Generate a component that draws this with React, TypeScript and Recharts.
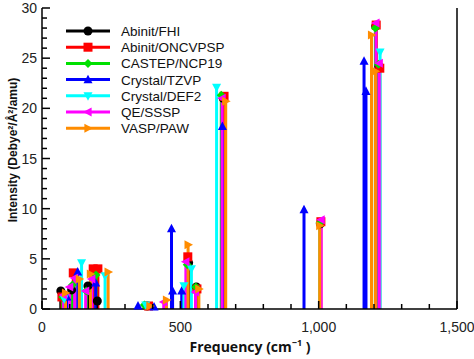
import React from 'react';
import { ScatterChart, Scatter, XAxis, YAxis, ErrorBar } from 'recharts';

// peak positions (cm-1) and intensities for each code/pseudopotential set
const freqFHI = [68, 107, 166, 200, 380, 530, 558, 655, 1006, 1206, 1218];
const intFHI = [1.8, 1.9, 2.3, 0.8, 0.3, 4.6, 2.2, 21.0, 8.5, 28.2, 24.2];

const freqONCV = [72, 113, 185, 202, 385, 527, 560, 658, 1008, 1208, 1221];
const intONCV = [1.2, 3.6, 4.0, 4.0, 0.3, 5.2, 2.0, 21.2, 8.7, 28.3, 24.0];

const freqCASTEP = [75, 110, 160, 195, 370, 525, 556, 648, 1005, 1205, 1216];
const intCASTEP = [1.2, 2.4, 1.8, 3.4, 0.4, 4.4, 2.2, 21.3, 8.6, 28.0, 24.4];

const freqTZVP = [90, 129, 194, 347, 405, 468, 472, 505, 652, 947, 1164, 1171];
const intTZVP = [1.2, 3.7, 2.6, 0.3, 0.2, 8.0, 1.8, 1.8, 18.2, 9.9, 24.7, 21.7];

const freqDEF2 = [80, 143, 228, 375, 513, 540, 631, 1222];
const intDEF2 = [1.0, 4.6, 3.3, 0.4, 2.3, 4.0, 22.1, 25.6];

const freqSSSP = [78, 100, 118, 158, 180, 440, 520, 555, 651, 1009, 1207, 1219];
const intSSSP = [1.4, 2.2, 3.1, 1.8, 3.0, 0.7, 4.7, 1.7, 21.0, 8.9, 28.5, 24.5];

const freqPAW = [85, 135, 175, 239, 390, 450, 528, 567, 664, 1004, 1191, 1205];
const intPAW = [1.6, 3.0, 3.5, 3.7, 0.3, 0.9, 6.4, 2.0, 20.7, 8.3, 27.3, 23.7];

const seriesNames = ['Abinit/FHI', 'Abinit/ONCVPSP', 'CASTEP/NCP19', 'Crystal/TZVP', 'Crystal/DEF2', 'QE/SSSP', 'VASP/PAW'];
const seriesColors = ['#000000', '#ff0000', '#00e000', '#0000ff', '#00ffff', '#ff00ff', '#ff8c00'];
const seriesMarkers = ['circle', 'square', 'diamond', 'up', 'down', 'left', 'right'];
const seriesFreqs = [freqFHI, freqONCV, freqCASTEP, freqTZVP, freqDEF2, freqSSSP, freqPAW];
const seriesInts = [intFHI, intONCV, intCASTEP, intTZVP, intDEF2, intSSSP, intPAW];

const xTicks = [0, 100, 200, 300, 400, 500, 600, 700, 800, 900, 1000, 1100, 1200, 1300, 1400, 1500];
const yTicks = Array.from({ length: 31 }, (_, i) => i);

const tickFont = '"Liberation Sans", Arial, sans-serif';

const Marker = ({ kind, cx, cy, color, s = 4.5 }: any) => {
  switch (kind) {
    case 'circle':
      return <circle cx={cx} cy={cy} r={s} fill={color} />;
    case 'square':
      return <rect x={cx - s} y={cy - s} width={2 * s} height={2 * s} fill={color} />;
    case 'diamond':
      return <polygon points={`${cx},${cy - s} ${cx + s},${cy} ${cx},${cy + s} ${cx - s},${cy}`} fill={color} />;
    case 'up':
      return <polygon points={`${cx},${cy - s * 1.1} ${cx + s},${cy + s * 0.8} ${cx - s},${cy + s * 0.8}`} fill={color} />;
    case 'down':
      return <polygon points={`${cx},${cy + s * 1.1} ${cx + s},${cy - s * 0.8} ${cx - s},${cy - s * 0.8}`} fill={color} />;
    case 'left':
      return <polygon points={`${cx - s * 1.1},${cy} ${cx + s * 0.8},${cy - s} ${cx + s * 0.8},${cy + s}`} fill={color} />;
    default:
      return <polygon points={`${cx + s * 1.1},${cy} ${cx - s * 0.8},${cy - s} ${cx - s * 0.8},${cy + s}`} fill={color} />;
  }
};

const LeftTick = ({ x, y, payload }: any) => {
  const major = payload.value % 5 === 0;
  return (
    <g>
      <line x1={x} y1={y} x2={x + (major ? 8 : 5)} y2={y} stroke="#000" strokeWidth={1.5} />
      {major && (
        <text x={x - 5} y={y + 5} textAnchor="end" fontSize={14} fontFamily={tickFont} fill="#222">
          {payload.value}
        </text>
      )}
    </g>
  );
};

const RightTick = ({ x, y, payload }: any) => {
  const major = payload.value % 5 === 0;
  return <line x1={x} y1={y} x2={x - (major ? 8 : 5)} y2={y} stroke="#000" strokeWidth={1.5} />;
};

const BottomTick = ({ x, y, payload }: any) => {
  const major = payload.value % 500 === 0;
  return (
    <g>
      <line x1={x} y1={y} x2={x} y2={y - (major ? 8 : 5)} stroke="#000" strokeWidth={1.5} />
      {major && (
        <text x={x} y={y + 23} textAnchor="middle" fontSize={14} fontFamily={tickFont} fill="#222">
          {payload.value.toLocaleString('en-US')}
        </text>
      )}
    </g>
  );
};

const TopTick = ({ x, y, payload }: any) => {
  const major = payload.value % 500 === 0;
  return <line x1={x} y1={y} x2={x} y2={y + (major ? 8 : 5)} stroke="#000" strokeWidth={1.5} />;
};

const LegendBox = () => (
  <svg width={260} height={140} style={{ position: 'absolute', left: 0, top: 0 }}>
    {seriesNames.map((name, i) => {
      const y = 31 + i * 16.2;
      return (
        <g key={name}>
          <line x1={66} y1={y} x2={110} y2={y} stroke={seriesColors[i]} strokeWidth={3} />
          <Marker kind={seriesMarkers[i]} cx={88} cy={y} color={seriesColors[i]} s={4.5} />
          <text x={121} y={y + 5} fontSize={13.5} fontFamily={tickFont} fill="#111">
            {name}
          </text>
        </g>
      );
    })}
  </svg>
);

export default function App() {
  const axisLine = { stroke: '#000', strokeWidth: 1.5 };
  return (
    <div style={{ position: 'absolute', left: 0, top: 0, width: 474, height: 359, background: '#fff' }}>
      <ScatterChart width={474} height={359} margin={{ top: 8, right: 0, bottom: 0, left: 0 }}>
        <XAxis
          type="number"
          dataKey="f"
          domain={[0, 1500]}
          ticks={xTicks}
          interval={0}
          height={50}
          tickSize={0}
          tickMargin={0}
          tickLine={false}
          axisLine={axisLine}
          tick={<BottomTick />}
        />
        <XAxis
          xAxisId="top"
          orientation="top"
          type="number"
          dataKey="f"
          domain={[0, 1500]}
          ticks={xTicks}
          interval={0}
          height={0}
          tickSize={0}
          tickMargin={0}
          tickLine={false}
          axisLine={axisLine}
          tick={<TopTick />}
        />
        <YAxis
          type="number"
          dataKey="v"
          domain={[0, 30]}
          ticks={yTicks}
          interval={0}
          width={42}
          tickSize={0}
          tickMargin={0}
          tickLine={false}
          axisLine={axisLine}
          tick={<LeftTick />}
        />
        <YAxis
          yAxisId="right"
          orientation="right"
          type="number"
          dataKey="v"
          domain={[0, 30]}
          ticks={yTicks}
          interval={0}
          width={17}
          tickSize={0}
          tickMargin={0}
          tickLine={false}
          axisLine={axisLine}
          tick={<RightTick />}
        />
        {seriesNames.map((name, i) => {
          const data = seriesFreqs[i].map((f, j) => ({ f, v: seriesInts[i][j], err: [seriesInts[i][j], 0] }));
          return (
            <Scatter
              key={name}
              name={name}
              data={data}
              isAnimationActive={false}
              shape={(p: any) => <Marker kind={seriesMarkers[i]} cx={p.cx} cy={p.cy} color={seriesColors[i]} />}
            >
              <ErrorBar dataKey="err" direction="y" width={0} stroke={seriesColors[i]} strokeWidth={3} isAnimationActive={false} />
            </Scatter>
          );
        })}
      </ScatterChart>
      <LegendBox />
      <div
        style={{
          position: 'absolute',
          left: 250,
          top: 346,
          transform: 'translate(-50%, -50%)',
          fontFamily: '"Open Sans", sans-serif',
          fontWeight: 700,
          fontSize: 14,
          whiteSpace: 'nowrap',
          color: '#111',
        }}
      >
        Frequency (cm<sup style={{ fontSize: 9 }}>−1</sup> )
      </div>
      <div
        style={{
          position: 'absolute',
          left: 13,
          top: 150,
          transform: 'translate(-50%, -50%) rotate(-90deg)',
          fontFamily: tickFont,
          fontWeight: 700,
          fontSize: 12,
          whiteSpace: 'nowrap',
          color: '#111',
        }}
      >
        Intensity (Debye²/Å²/amu)
      </div>
    </div>
  );
}
